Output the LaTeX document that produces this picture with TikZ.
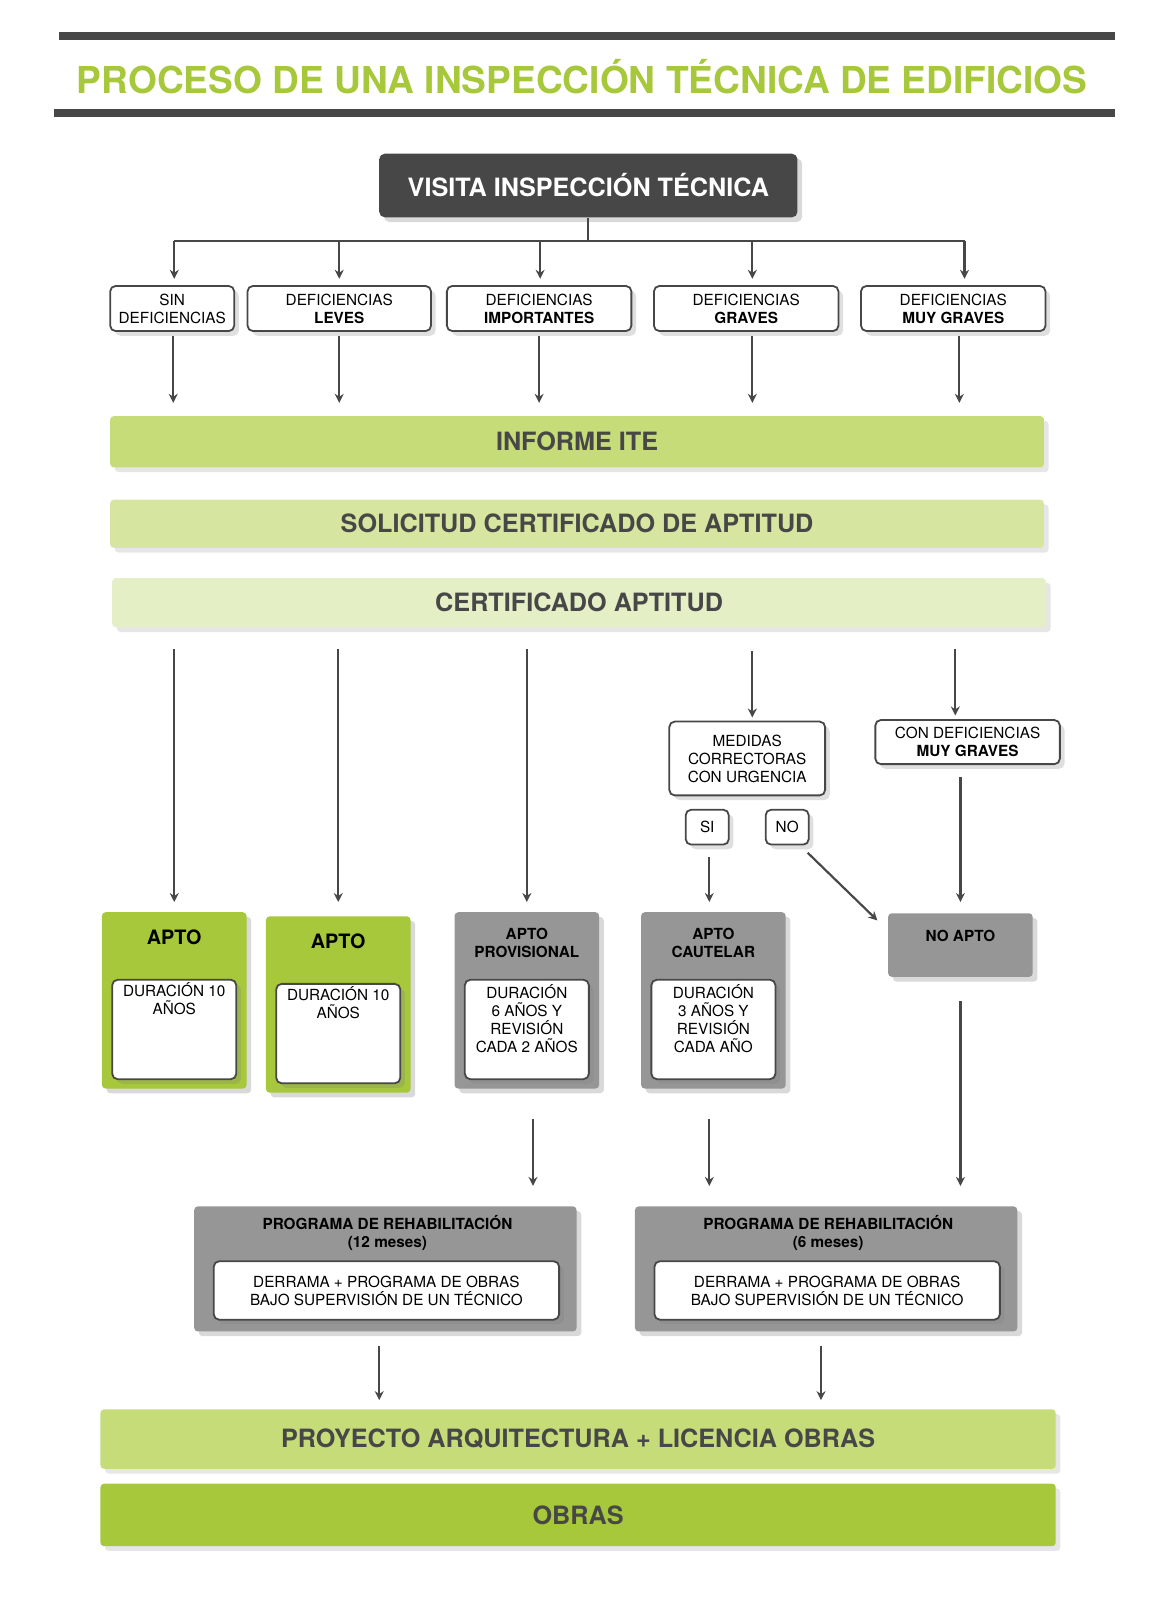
\documentclass[tikz,border=0pt]{standalone}
\usepackage{fontspec}
\setmainfont{TeX Gyre Heros}
\usetikzlibrary{shadows,arrows.meta}
\definecolor{dk}{HTML}{474747}
\definecolor{tg}{HTML}{A6C83A}
\definecolor{g1}{HTML}{C5DC78}
\definecolor{g2}{HTML}{D6E6A0}
\definecolor{g3}{HTML}{E4EFC6}
\definecolor{gr}{HTML}{969696}
\begin{document}
\begin{tikzpicture}[x=0.02cm,y=-0.02cm,
 ar/.style={draw=dk,line width=1.2pt,-{Stealth[length=5pt,width=5pt]}},
 sbox/.style={draw=dk,fill=white,rounded corners=3pt,line width=1pt,drop shadow={opacity=0.25},align=center,font=\fontsize{8.5}{10}\selectfont,inner sep=0pt},
 bar/.style={rounded corners=2pt,drop shadow={opacity=0.2},font=\bfseries\fontsize{14}{16}\selectfont,text=dk,inner sep=0pt},
 big/.style={rounded corners=2pt,drop shadow={opacity=0.3},inner sep=0pt},
 hdr/.style={font=\bfseries\fontsize{8.5}{10}\selectfont,align=center,text=black}]
\useasboundingbox (0,0) rectangle (1124,1561);
\fill[dk] (58,31) rectangle (1088,39);
\fill[dk] (53,106) rectangle (1088,114);
\node[font=\bfseries\fontsize{20.6}{24}\selectfont,text=tg] (title) at (568,75) {PROCESO DE UNA INSPECCIÓN TÉCNICA DE EDIFICIOS};
\node[fill=dk,rounded corners=3pt,drop shadow={opacity=0.3},minimum width=408*0.02cm,minimum height=62*0.02cm,text=white,font=\bfseries\fontsize{14}{16}\selectfont] (vis) at (574,181) {VISITA INSPECCIÓN TÉCNICA};
\coordinate (j) at (574,235);
\draw[dk,line width=1.2pt] (vis.south) -- (j);
\draw[dk,line width=1.2pt] (170,235) -- (941,235);
\foreach \x in {170,331,527,734,941}{\draw[ar] (\x,235) -- (\x,272);}
\node[sbox,minimum width=121*0.02cm,minimum height=44*0.02cm] (b1) at (168,301) {SIN\\DEFICIENCIAS};
\node[sbox,minimum width=179*0.02cm,minimum height=44*0.02cm] (b2) at (331,301) {DEFICIENCIAS\\\textbf{LEVES}};
\node[sbox,minimum width=180*0.02cm,minimum height=44*0.02cm] (b3) at (526,301) {DEFICIENCIAS\\\textbf{IMPORTANTES}};
\node[sbox,minimum width=180*0.02cm,minimum height=44*0.02cm] (b4) at (728,301) {DEFICIENCIAS\\\textbf{GRAVES}};
\node[sbox,minimum width=180*0.02cm,minimum height=44*0.02cm] (b5) at (930,301) {DEFICIENCIAS\\\textbf{MUY GRAVES}};
\foreach \x in {169,331,526,734,936}{\draw[ar] (\x,328) -- (\x,393);}
\node[bar,fill=g1,minimum width=911*0.02cm,minimum height=50*0.02cm] (inf) at (563,431) {INFORME ITE};
\node[bar,fill=g2,minimum width=911*0.02cm,minimum height=47*0.02cm] (sol) at (563,511) {SOLICITUD CERTIFICADO DE APTITUD};
\node[bar,fill=g3,minimum width=911*0.02cm,minimum height=48*0.02cm] (cer) at (565,588) {CERTIFICADO APTITUD};
\foreach \x in {170,330,514}{\draw[ar] (\x,633) -- (\x,880);}
\draw[ar] (734,635) -- (734,700);
\draw[ar] (932,633) -- (932,698);
\node[sbox,minimum width=152*0.02cm,minimum height=72*0.02cm] (med) at (729,740) {MEDIDAS\\CORRECTORAS\\CON URGENCIA};
\node[sbox,minimum width=180*0.02cm,minimum height=43*0.02cm] (cdm) at (944,724) {CON DEFICIENCIAS\\\textbf{MUY GRAVES}};
\node[sbox,minimum width=42*0.02cm,minimum height=34*0.02cm] (si) at (690,807) {SI};
\node[sbox,minimum width=42*0.02cm,minimum height=34*0.02cm] (no) at (768,807) {NO};
\draw[ar] (692,836) -- (692,880);
\coordinate (d1) at (788,832);
\draw[ar] (d1) -- (856,898);
\draw[ar] (937,758) -- (937,880);
% APTO boxes
\node[big,fill=tg,minimum width=141*0.02cm,minimum height=172*0.02cm] (a1) at (170,976) {};
\node[hdr,font=\bfseries\fontsize{11}{13}\selectfont] at (170,914) {APTO};
\node[sbox,minimum width=121*0.02cm,minimum height=97*0.02cm,anchor=north,text depth=60*0.02cm] (a1i) at (170,955) {DURACIÓN 10\\AÑOS};
\node[big,fill=tg,minimum width=141*0.02cm,minimum height=172*0.02cm] (a2) at (330,980) {};
\node[hdr,font=\bfseries\fontsize{11}{13}\selectfont] at (330,918) {APTO};
\node[sbox,minimum width=121*0.02cm,minimum height=97*0.02cm,anchor=north,text depth=60*0.02cm] (a2i) at (330,959) {DURACIÓN 10\\AÑOS};
\node[big,fill=gr,minimum width=141*0.02cm,minimum height=172*0.02cm] (a3) at (514,976) {};
\node[hdr] at (514,920) {APTO\\PROVISIONAL};
\node[sbox,minimum width=121*0.02cm,minimum height=97*0.02cm,anchor=north,text depth=22*0.02cm] (a3i) at (514,955) {DURACIÓN\\6 AÑOS Y\\REVISIÓN\\CADA 2 AÑOS};
\node[big,fill=gr,minimum width=141*0.02cm,minimum height=172*0.02cm] (a4) at (696,976) {};
\node[hdr] at (696,920) {APTO\\CAUTELAR};
\node[sbox,minimum width=121*0.02cm,minimum height=97*0.02cm,anchor=north,text depth=22*0.02cm] (a4i) at (696,955) {DURACIÓN\\3 AÑOS Y\\REVISIÓN\\CADA AÑO};
\node[big,fill=gr,minimum width=141*0.02cm,minimum height=62*0.02cm] (na) at (937,922) {};
\node[hdr] at (937,913) {NO APTO};
\draw[ar] (520,1092) -- (520,1157);
\draw[ar] (692,1092) -- (692,1157);
\draw[ar] (937,977) -- (937,1157);
% programas
\node[big,fill=gr,minimum width=373*0.02cm,minimum height=122*0.02cm] (p1) at (376,1238) {};
\node[hdr] at (378,1203) {PROGRAMA DE REHABILITACIÓN\\(12 meses)};
\node[sbox,minimum width=337*0.02cm,minimum height=57*0.02cm] (p1i) at (377,1259) {DERRAMA + PROGRAMA DE OBRAS\\BAJO SUPERVISIÓN DE UN TÉCNICO};
\node[big,fill=gr,minimum width=373*0.02cm,minimum height=122*0.02cm] (p2) at (806,1238) {};
\node[hdr] at (808,1203) {PROGRAMA DE REHABILITACIÓN\\(6 meses)};
\node[sbox,minimum width=337*0.02cm,minimum height=57*0.02cm] (p2i) at (807,1259) {DERRAMA + PROGRAMA DE OBRAS\\BAJO SUPERVISIÓN DE UN TÉCNICO};
\draw[ar] (370,1313) -- (370,1366);
\draw[ar] (801,1313) -- (801,1366);
\node[bar,fill=g1,minimum width=932*0.02cm,minimum height=58*0.02cm] (pro) at (564,1404) {PROYECTO ARQUITECTURA + LICENCIA OBRAS};
\node[bar,fill=tg,minimum width=932*0.02cm,minimum height=61*0.02cm] (obr) at (564,1478) {OBRAS};
\end{tikzpicture}
\end{document}
